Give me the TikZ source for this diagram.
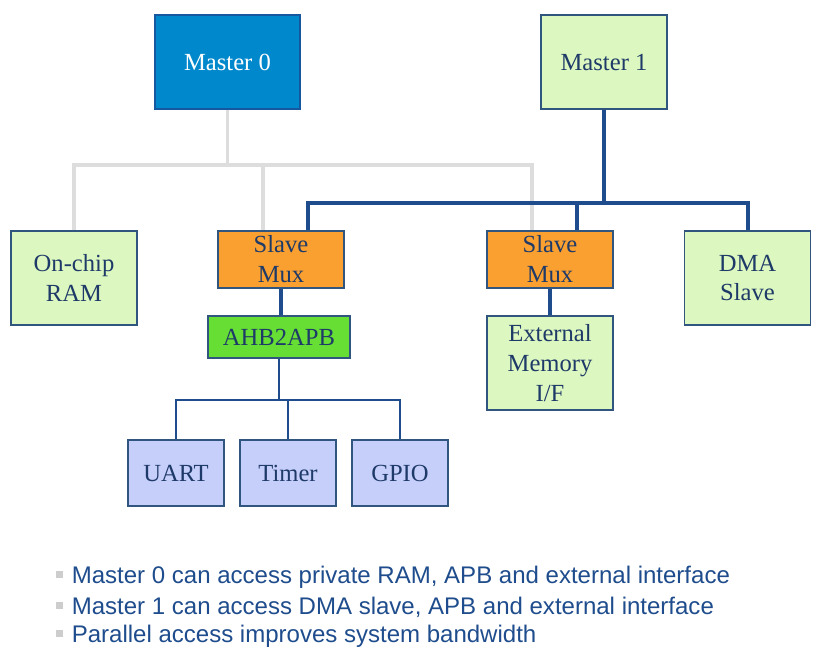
\documentclass[tikz,border=0pt]{standalone}
\usepackage{fontspec}
\setmainfont{Liberation Serif}
\newfontfamily\notefont{Liberation Sans}
\usepackage{xcolor}
\usetikzlibrary{positioning, calc}
\definecolor{mzblue}{RGB}{0,136,204}
\definecolor{mzedge}{RGB}{22,88,160}
\definecolor{lgreen}{RGB}{221,247,192}
\definecolor{boxedge}{RGB}{48,86,128}
\definecolor{muxorange}{RGB}{250,160,48}
\definecolor{apbgreen}{RGB}{102,222,52}
\definecolor{perblue}{RGB}{198,206,250}
\definecolor{busgray}{RGB}{221,221,221}
\definecolor{busblue}{RGB}{30,76,140}
\definecolor{txtblue}{RGB}{30,58,104}
\definecolor{notegray}{RGB}{205,205,205}
\newcommand{\bul}{\textcolor{notegray}{\rule[0.2em]{0.3em}{0.3em}}\hspace{0.35em}}

\begin{document}
\begin{tikzpicture}[
  x=0.03cm, y=-0.03cm,
  blk/.style={rectangle, draw=boxedge, line width=1.1pt, fill=lgreen,
              minimum width=3.78cm, minimum height=2.82cm, inner sep=0pt,
              font=\fontsize{21}{25.5}\selectfont, text=txtblue, align=center},
  mux/.style={blk, fill=muxorange, minimum height=1.71cm},
  per/.style={blk, fill=perblue, minimum width=2.88cm, minimum height=1.98cm},
  gbus/.style={draw=busgray, line width=3.4pt},
  bbus/.style={draw=busblue, line width=3.4pt},
  pbus/.style={draw=busblue, line width=1.2pt},
  note/.style={anchor=west, font=\notefont\fontsize{20.5}{24}\selectfont, text=busblue, inner sep=0pt},
]
\useasboundingbox (0,0) rectangle (823,664);

% --- masters ---
\node[blk, fill=mzblue, draw=mzedge, text=white, minimum width=4.35cm] (mz) at (227.5,62) {Master 0};
\node[blk] (mo) at (604,62) {Master 1};

% --- AHB slaves ---
\node[blk] (ram) at (74,278) {On-chip\\RAM};
\node[mux] (mxa) at (281,259.5) {Slave\\Mux};
\node[mux] (mxb) at (550,259.5) {Slave\\Mux};
\node[blk] (dma) at (747.5,278) {DMA\\Slave};
\node[blk, fill=apbgreen, minimum width=4.26cm, minimum height=1.26cm] (apb) at (279,337) {AHB2APB};
\node[blk] (ext) at (550,363) {External\\Memory\\I/F};

% --- APB peripherals ---
\node[per] (uart) at (176,473) {UART};
\node[per] (tmr) at (288,473) {Timer};
\node[per] (gpio) at (400,473) {GPIO};

% --- bus taps on the muxes ---
\coordinate (mxag) at ($(mxa.north west)!0.36!(mxa.north east)$);
\coordinate (mxab) at ($(mxa.north west)!0.71!(mxa.north east)$);
\coordinate (mxbg) at ($(mxb.north west)!0.36!(mxb.north east)$);
\coordinate (mxbb) at ($(mxb.north west)!0.71!(mxb.north east)$);
\coordinate (gbar) at (227.5,165);
\coordinate (bbar) at (604,203);
\coordinate (pbar) at (279,400);

% --- Master 0 bus ---
\draw[gbus] (mz.south) -- (gbar);
\draw[gbus] (ram.north) |- (gbar) -| (mxbg);
\draw[gbus] (mxag) -- (mxag |- gbar);

% --- Master 1 bus ---
\draw[bbus] (mo.south) -- (bbar);
\draw[bbus] (mxab) |- (bbar) -| (dma.north);
\draw[bbus] (mxbb) -- (mxbb |- bbar);
\draw[bbus] (mxa.south) -- (mxa.south |- apb.north);
\draw[bbus] (mxb.south) -- (ext.north);

% --- APB bus ---
\draw[pbus] (apb.south) -- (pbar);
\draw[pbus] (uart.north) |- (pbar) -| (gpio.north);
\draw[pbus] (tmr.north) -- (tmr.north |- pbar);

% --- notes ---
\node[note] (n1) at (56,577) {\bul Master 0 can access private RAM, APB and external interface};
\node[note] (n2) at (56,607) {\bul Master 1 can access DMA slave, APB and external interface};
\node[note] (n3) at (56,636) {\bul Parallel access improves system bandwidth};
\end{tikzpicture}
\end{document}
